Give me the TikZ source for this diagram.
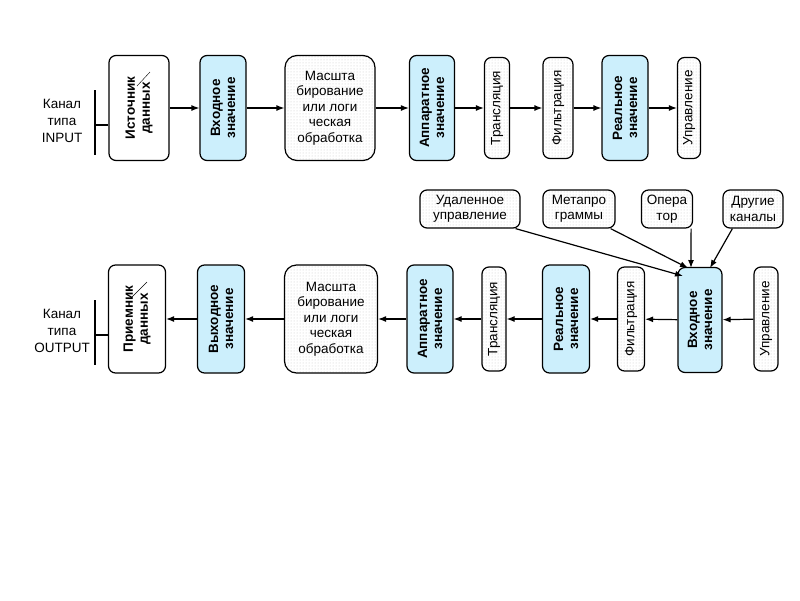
\documentclass[tikz,border=0pt]{standalone}
\usepackage{fontspec}
\setmainfont{Liberation Sans}
\usetikzlibrary{arrows.meta,patterns}

\tikzset{
  box/.style={draw, line width=1.2pt, rounded corners=7pt, rotate=90, align=center,
    inner sep=1pt, font=\fontsize{13.5}{15}\selectfont},
  plain/.style={box, pattern=dots, pattern color=gray!45},
  val/.style={box, fill=cyan!20, font=\fontsize{13.5}{15}\selectfont\bfseries},
  flat/.style={draw, line width=1.2pt, rounded corners=7pt, align=center, inner sep=1pt,
    pattern=dots, pattern color=gray!45, font=\fontsize{13.5}{15.5}\selectfont},
  link/.style={line width=1.2pt, -{Latex[length=8pt,width=6pt]}}
}

\begin{document}
\begin{tikzpicture}[x=1pt,y=-1pt]
	\useasboundingbox (0,0) rectangle (800,600);

	% Канал INPUT
	\node[align=center, font=\fontsize{13.5}{17}\selectfont] (inlab) at (62,121) {Канал\\типа\\INPUT};
	\coordinate (inbar) at (95,125);
	\draw[line width=1.2pt] (95,90) -- (95,155);
	\node[box, font=\fontsize{13.5}{15}\selectfont\bfseries, fill=white, minimum width=105, minimum height=60] (src) at (139,108) {Источник\\данных};
	\node[val, minimum width=105, minimum height=46] (in1) at (223,108) {Входное\\значение};
	\node[flat, rounded corners=12pt, minimum width=90, minimum height=105] (sc1) at (330,108) {Масшта\\бирование\\или логи\\ческая\\обработка};
	\node[val, minimum width=105, minimum height=45] (hw1) at (432,108) {Аппаратное\\значение};
	\node[plain, minimum width=101, minimum height=25] (tr1) at (497,108) {Трансляция};
	\node[plain, minimum width=101, minimum height=30] (fl1) at (558,108) {Фильтрация};
	\node[val, minimum width=105, minimum height=46] (re1) at (625,108) {Реальное\\значение};
	\node[plain, minimum width=101, minimum height=23] (ct1) at (689,108) {Управление};

	\draw[line width=1.2pt] (inbar) -- (src.north |- inbar);
	\draw (137,86) -- (150,72);
	\draw[link] (src) -- (in1);
	\draw[link] (in1) -- (sc1);
	\draw[link] (sc1) -- (hw1);
	\draw[link] (hw1) -- (tr1);
	\draw[link] (tr1) -- (fl1);
	\draw[link] (fl1) -- (re1);
	\draw[link] (re1) -- (ct1);

	% Источники управления
	\node[flat, minimum width=100, minimum height=38] (rem) at (470,209) {Удаленное\\управление};
	\node[flat, minimum width=72, minimum height=38] (meta) at (579,209) {Метапро\\граммы};
	\node[flat, minimum width=51, minimum height=38] (op) at (667,209) {Опера\\тор};
	\node[flat, minimum width=60, minimum height=38] (oth) at (753,209) {Другие\\каналы};

	% Канал OUTPUT
	\node[align=center, font=\fontsize{13.5}{17}\selectfont] (outlab) at (62,331) {Канал\\типа\\OUTPUT};
	\coordinate (outbar) at (95,335);
	\draw[line width=1.2pt] (95,300) -- (95,365);
	\node[box, font=\fontsize{13.5}{15}\selectfont\bfseries, fill=white, minimum width=108, minimum height=57] (dst) at (137,319) {Приемник\\данных};
	\node[val, minimum width=108, minimum height=47] (out2) at (221,319) {Выходное\\значение};
	\node[flat, rounded corners=12pt, minimum width=93, minimum height=108] (sc2) at (331,319) {Масшта\\бирование\\или логи\\ческая\\обработка};
	\node[val, minimum width=108, minimum height=46] (hw2) at (430,319) {Аппаратное\\значение};
	\node[plain, minimum width=104, minimum height=24] (tr2) at (494,319) {Трансляция};
	\node[val, minimum width=108, minimum height=47] (re2) at (566,319) {Реальное\\значение};
	\node[plain, minimum width=104, minimum height=27] (fl2) at (631,319) {Фильтрация};
	\node[val, minimum width=105, minimum height=44] (in2) at (700,320) {Входное\\значение};
	\node[plain, minimum width=104, minimum height=24] (ct2) at (766,319) {Управление};

	\draw[line width=1.2pt] (outbar) -- (dst.north |- outbar);
	\draw (132,297) -- (147,282);
	\draw[link] (ct2) -- (in2);
	\draw[link] (in2) -- (fl2);
	\draw[link] (fl2) -- (re2);
	\draw[link] (re2) -- (tr2);
	\draw[link] (tr2) -- (hw2);
	\draw[link] (hw2) -- (sc2);
	\draw[link] (sc2) -- (out2);
	\draw[link] (out2) -- (dst);

	\coordinate (remend) at (683,276);
	\coordinate (metaend) at (688,268);
	\coordinate (opend) at (691,268);
	\coordinate (othend) at (710,268);
	\draw[link] (rem.south east) ++(-5,0) -- (remend);
	\draw[link] (meta.south east) ++(-5,0) -- (metaend);
	\draw[link] (op.south east) ++(-2,0) -- (opend);
	\draw[link] (oth.south west) ++(10,0) -- (othend);
\end{tikzpicture}
\end{document}
